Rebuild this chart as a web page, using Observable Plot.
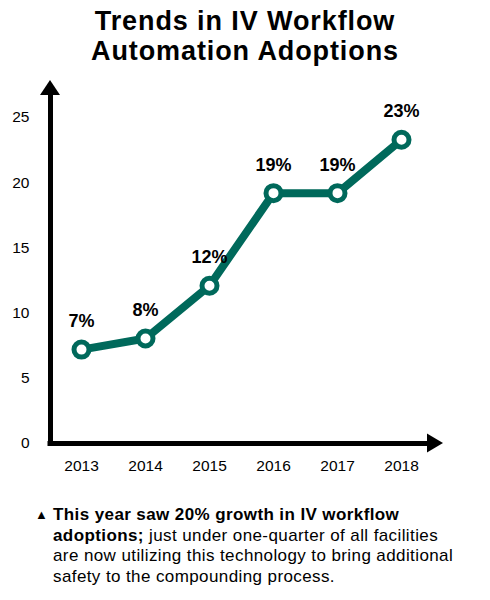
<!DOCTYPE html>
<html>
<head>
<meta charset="utf-8">
<script src="https://cdn.jsdelivr.net/npm/d3@7"></script>
<script src="https://cdn.jsdelivr.net/npm/@observablehq/plot@0.6"></script>
<style>
  body { margin: 0; background: #fff; font-family: "Liberation Sans", Arial, Helvetica, sans-serif; color: #000; }
  #title { height: 70px; box-sizing: border-box; padding-top: 6px; text-align: center; font-size: 27px; font-weight: bold; line-height: 30px; letter-spacing: 0.9px; }
  #caption { display: flex; padding-top: 15px; padding-left: 35px; font-size: 17px; line-height: 20.5px; letter-spacing: 0.4px; }
  #caption .tri { width: 18px; font-size: 13px; flex: none; line-height: 19px; }
</style>
</head>
<body>
<div id="title">Trends in IV Workflow<br>Automation Adoptions</div>
<div id="chart"></div>
<div id="caption"><span class="tri">▲</span><span><b>This year saw 20% growth in IV workflow<br>adoptions;</b> just under one-quarter of all facilities<br>are now utilizing this technology to bring additional<br>safety to the compounding process.</span></div>
<script>
const years = ["2013", "2014", "2015", "2016", "2017", "2018"];
const values = [7.2, 8.05, 12.1, 19.2, 19.2, 23.3];
const labels = ["7%", "8%", "12%", "19%", "19%", "23%"];
const yTicks = [0, 5, 10, 15, 20, 25];

const teal = "#00695b";
const data = years.map((y, i) => ({year: y, value: values[i], label: labels[i]}));

const W = 490, H = 420, mL = 50, mR = 47, mT = 10, mB = 47;

const plot = Plot.plot({
  width: W,
  height: H,
  marginLeft: mL,
  marginRight: mR,
  marginTop: mT,
  marginBottom: mB,
  style: {fontFamily: "'Liberation Sans', Arial, Helvetica, sans-serif", fontSize: "15px", color: "#000", background: "transparent"},
  x: {type: "point", domain: years, padding: 0.57, align: 0.425},
  y: {domain: [0, 27.84]},
  marks: [
    Plot.axisY({ticks: yTicks, tickSize: 0, tickPadding: 21, fontSize: 15.5, label: null}),
    Plot.axisX({tickSize: 0, tickPadding: 16, fontSize: 15.5, label: null}),
    Plot.frame({anchor: "left", stroke: "#000", strokeWidth: 5, insetTop: 8}),
    Plot.ruleY([0], {stroke: "#000", strokeWidth: 5, insetLeft: -2.5, insetRight: 8}),
    Plot.line(data, {x: "year", y: "value", stroke: teal, strokeWidth: 8}),
    Plot.dot(data, {x: "year", y: "value", r: 7.5, fill: "white", stroke: teal, strokeWidth: 5}),
    Plot.text(data, {x: "year", y: "value", text: "label", dy: -28, fontSize: 18, fontWeight: "bold", fill: "#000"})
  ]
});

// filled arrowheads at the ends of the axes
const svg = d3.select(plot);
const x0 = mL, y0 = H - mB, xEnd = W - mR, yEnd = mT;
svg.append("path")
  .attr("d", `M${x0},${yEnd} L${x0 - 10},${yEnd + 15} L${x0 + 10},${yEnd + 15} Z`)
  .attr("fill", "#000");
svg.append("path")
  .attr("d", `M${xEnd},${y0} L${xEnd - 16},${y0 - 9.5} L${xEnd - 16},${y0 + 9.5} Z`)
  .attr("fill", "#000");

document.getElementById("chart").appendChild(plot);
</script>
</body>
</html>
